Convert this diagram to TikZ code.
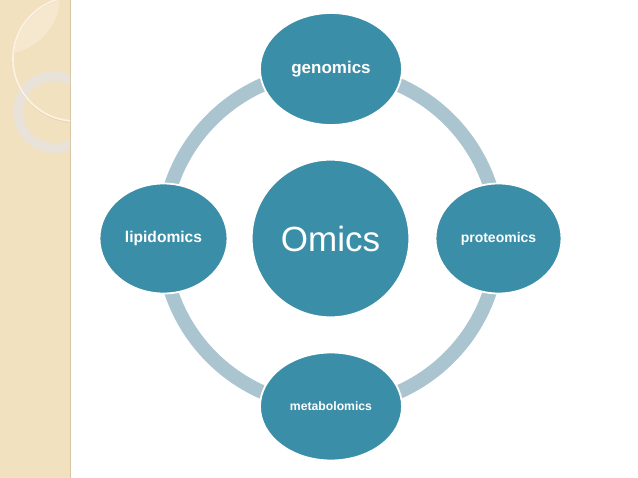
\documentclass[tikz,border=0pt]{standalone}
\usepackage{fontspec}
\setmainfont{Liberation Sans}
\usetikzlibrary{shapes.geometric}
\definecolor{teal}{HTML}{3A8EA7}
\definecolor{bandcol}{HTML}{AAC5D0}
\definecolor{stripbeige}{HTML}{F2E1BE}
\definecolor{stripedge}{HTML}{D8C7A4}
\definecolor{ringgray}{HTML}{E7E3DB}
\definecolor{creamline}{HTML}{FBF4E4}
\tikzset{
  sat/.style={ellipse, fill=teal, draw=white, line width=1.8pt, inner sep=0pt, text=white},
  hub/.style={circle, fill=teal, draw=white, line width=1.2pt, inner sep=0pt, text=white,
    minimum size=157pt, font=\fontsize{35}{35}\selectfont},
  band/.style={draw=bandcol, line width=14pt}
}
\begin{document}
\begin{tikzpicture}[x=1pt,y=-1pt]
\useasboundingbox (0,0) rectangle (638,478);
\fill[white] (0,0) rectangle (638,478);
% left decorative strip
\fill[stripbeige] (0,0) rectangle (70,478);
\draw[stripedge, line width=1.5pt] (70.5,0) -- (70.5,478);
\begin{scope}
  \clip (0,0) rectangle (70,478);
  \begin{scope}
    \clip (75,59) circle (62pt);
    \fill[white, opacity=0.25] (2,-4) circle (58pt);
  \end{scope}
  \draw[ringgray, line width=10pt, opacity=0.9] (54,112) circle (36pt);
  \draw[stripedge, line width=1pt, opacity=0.5] (75.6,60) circle (62.5pt);
  \draw[creamline, line width=1.6pt] (75,59) circle (62pt);
\end{scope}
% ring beneath all circles
\coordinate (c) at (330.5,238.5);
\draw[band] (c) circle (168pt);
% hub
\node[hub] (omics) at (c) {Omics};
% satellites
\node[sat, minimum width=142pt, minimum height=112pt,
      font=\bfseries\fontsize{17}{17}\selectfont] (gen) at (331,69) {genomics};
\node[sat, minimum width=126pt, minimum height=110pt,
      font=\bfseries\fontsize{14}{14}\selectfont] (prot) at (498.5,238.5) {proteomics};
\node[sat, minimum width=128pt, minimum height=110pt,
      font=\bfseries\fontsize{15.6}{15.6}\selectfont] (lip) at (163.5,238.5) {lipidomics};
\node[sat, minimum width=142pt, minimum height=108pt,
      font=\bfseries\fontsize{12.2}{12.2}\selectfont] (met) at (331,406.5) {metabolomics};
\end{tikzpicture}
\end{document}
